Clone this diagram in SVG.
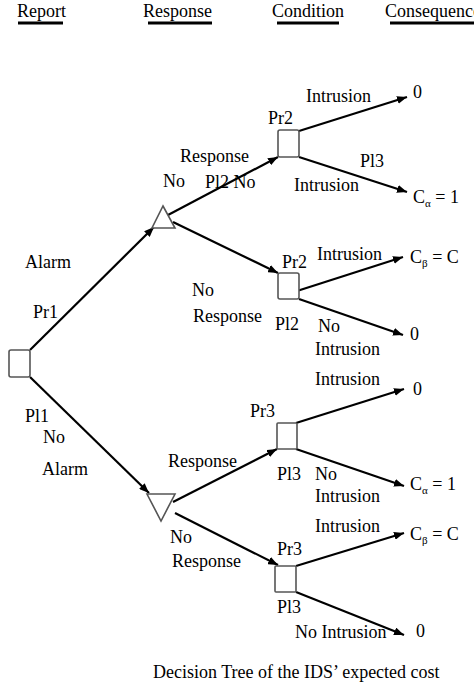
<svg xmlns="http://www.w3.org/2000/svg" width="474" height="685" viewBox="0 0 474 685">
<defs>
<style>
text{font-family:"Liberation Serif","Times New Roman",serif;font-size:18px;fill:#000}
.sub{font-size:11px}
.node{fill:#fff;stroke:#555;stroke-width:1.6}
.edge{stroke:#000;stroke-width:2.2;fill:none}
.ul{stroke:#000;stroke-width:3}
</style>
<marker id="ah" markerUnits="userSpaceOnUse" markerWidth="10" markerHeight="8" refX="10" refY="4" orient="auto">
<path d="M0,0 L10,4 L0,8 z" fill="#000"/>
</marker>
</defs>
<rect width="474" height="685" fill="#fff"/>
<g id="headers">
<text x="17" y="17">Report</text>
<text x="143" y="17">Response</text>
<text x="272" y="17">Condition</text>
<text x="385" y="17">Consequence</text>
<line class="ul" x1="18" y1="23" x2="63" y2="23"/>
<line class="ul" x1="148" y1="23" x2="212" y2="23"/>
<line class="ul" x1="277" y1="23" x2="339" y2="23"/>
<line class="ul" x1="390" y1="23" x2="474" y2="23"/>
</g>
<g id="connectors">
<line class="edge" x1="30" y1="350" x2="154" y2="227" marker-end="url(#ah)"/>
<line class="edge" x1="30" y1="377" x2="149" y2="493" marker-end="url(#ah)"/>
<line class="edge" x1="168" y1="215" x2="278" y2="157" marker-end="url(#ah)"/>
<line class="edge" x1="173" y1="222" x2="278" y2="273" marker-end="url(#ah)"/>
<line class="edge" x1="299" y1="131" x2="407" y2="97" marker-end="url(#ah)"/>
<line class="edge" x1="299" y1="157" x2="407" y2="192" marker-end="url(#ah)"/>
<line class="edge" x1="297" y1="291" x2="403" y2="257" marker-end="url(#ah)"/>
<line class="edge" x1="299" y1="299" x2="403" y2="335" marker-end="url(#ah)"/>
<line class="edge" x1="173" y1="502" x2="277" y2="449" marker-end="url(#ah)"/>
<line class="edge" x1="175" y1="513" x2="278" y2="565" marker-end="url(#ah)"/>
<line class="edge" x1="296" y1="423" x2="404" y2="389" marker-end="url(#ah)"/>
<line class="edge" x1="296" y1="449" x2="404" y2="486" marker-end="url(#ah)"/>
<line class="edge" x1="296" y1="566" x2="404" y2="533" marker-end="url(#ah)"/>
<line class="edge" x1="296" y1="592" x2="404" y2="635" marker-end="url(#ah)"/>
</g>
<g id="root">
<rect class="node" x="9" y="350" width="21" height="27" rx="2"/>
<text x="25" y="268">Alarm</text>
<text x="33" y="318">Pr1</text>
<text x="25" y="422">Pl1</text>
<text x="43" y="443">No</text>
<text x="42" y="475">Alarm</text>
</g>
<g id="tri-alarm">
<polygon class="node" points="163,206 175,228 152,228"/>
<text x="180" y="162">Response</text>
<text x="163" y="187">No</text>
<text x="205" y="188">Pl2 No</text>
<text x="192" y="296">No</text>
<text x="193" y="322">Response</text>
</g>
<g id="tri-noalarm">
<polygon class="node" points="147,494 175,494 161,521"/>
<text x="168" y="467">Response</text>
<text x="170" y="543">No</text>
<text x="172" y="567">Response</text>
</g>
<g id="pr2-response">
<rect class="node" x="278" y="130" width="21" height="27" rx="2"/>
<text x="268" y="124">Pr2</text>
<text x="306" y="102">Intrusion</text>
<text x="413" y="98">0</text>
<text x="360" y="167">Pl3</text>
<text x="294" y="191">Intrusion</text>
<text x="413" y="203">C<tspan class="sub" dy="4">α</tspan><tspan dy="-4"> = 1</tspan></text>
</g>
<g id="pr2-noresponse">
<rect class="node" x="278" y="273" width="21" height="26" rx="2"/>
<text x="282" y="268">Pr2</text>
<text x="317" y="260">Intrusion</text>
<text x="410" y="263">C<tspan class="sub" dy="4">β</tspan><tspan dy="-4"> = C</tspan></text>
<text x="275" y="330">Pl2</text>
<text x="318" y="332">No</text>
<text x="315" y="355">Intrusion</text>
<text x="410" y="340">0</text>
</g>
<g id="pr3-response">
<rect class="node" x="277" y="423" width="20" height="26" rx="1"/>
<text x="250" y="417">Pr3</text>
<text x="315" y="385">Intrusion</text>
<text x="413" y="395">0</text>
<text x="277" y="480">Pl3</text>
<text x="315" y="480">No</text>
<text x="315" y="502">Intrusion</text>
<text x="410" y="490">C<tspan class="sub" dy="4">α</tspan><tspan dy="-4"> = 1</tspan></text>
</g>
<g id="pr3-noresponse">
<rect class="node" x="275" y="566" width="21" height="26" rx="1"/>
<text x="277" y="555">Pr3</text>
<text x="315" y="532">Intrusion</text>
<text x="410" y="540">C<tspan class="sub" dy="4">β</tspan><tspan dy="-4"> = C</tspan></text>
<text x="277" y="613">Pl3</text>
<text x="295" y="638">No Intrusion</text>
<text x="416" y="637">0</text>
</g>
<text x="153" y="678">Decision Tree of the IDS’ expected cost</text>
</svg>
